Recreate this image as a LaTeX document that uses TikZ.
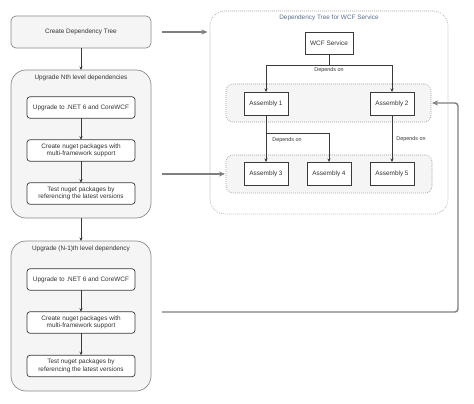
\documentclass[tikz,border=0pt]{standalone}
\usepackage{fontspec}
\setmainfont{Liberation Sans}
\usetikzlibrary{arrows.meta,calc}
\definecolor{boxfill}{HTML}{F5F5F5}
\definecolor{boxline}{HTML}{8A8A8A}
\definecolor{darkline}{HTML}{3A3A3A}
\definecolor{txt}{HTML}{333333}
\definecolor{bluetxt}{HTML}{5A6E8C}
\definecolor{arrowgray}{HTML}{7F7F7F}
\definecolor{dotline}{HTML}{A0A0A0}
\begin{document}
\begin{tikzpicture}[x=1pt,y=-1pt,
  every node/.style={inner sep=0pt, outer sep=0pt, font=\fontsize{6.4}{7.6}\selectfont, text=txt, align=center},
  graybox/.style={draw=boxline, fill=boxfill, line width=0.7pt, rounded corners=5pt},
  container/.style={draw=boxline, fill=boxfill, line width=0.7pt, rounded corners=15pt},
  stepbox/.style={draw=darkline, fill=white, line width=0.7pt, rounded corners=3pt, minimum width=108pt, minimum height=21.5pt},
  asm/.style={draw=darkline, fill=white, line width=0.7pt, minimum width=44pt, minimum height=23pt},
  dotgroup/.style={draw=dotline, fill=boxfill, line width=0.6pt, dash pattern=on 0.8pt off 1.2pt, rounded corners=7pt},
  dotcont/.style={draw=dotline, fill=white, line width=0.6pt, dash pattern=on 0.8pt off 1.2pt, rounded corners=15pt},
  bigarrow/.style={draw=arrowgray, line width=1.4pt, -{Stealth[length=6pt,width=5pt]}},
  thinarrow/.style={draw=darkline, line width=0.7pt, -{Stealth[length=3.5pt,width=3pt]}},
  dep/.style={font=\fontsize{5.4}{6.4}\selectfont, text=txt}
]
\useasboundingbox (0,0) rectangle (474,404);
\fill[white] (0,0) rectangle (474,404);

% left column
\node[graybox, minimum width=140pt, minimum height=32pt] (create) at (81,32) {Create Dependency Tree};

\node[container, minimum width=140pt, minimum height=148pt] (nth) at (81,144) {};
\node (nthlab) at (81,77.5) {Upgrade Nth level dependencies};
\node[stepbox] (n1a) at (81,107.5) {Upgrade to .NET 6 and CoreWCF};
\node[stepbox] (n1b) at (81,150.5) {Create nuget packages with\\multi-framework support};
\node[stepbox] (n1c) at (81,193.5) {Test nuget packages by\\referencing the latest versions};

\node[container, minimum width=140pt, minimum height=150pt] (nm1) at (81,316) {};
\node (nm1lab) at (81,249) {Upgrade (N-1)th level dependency};
\node[stepbox] (n2a) at (81,279.5) {Upgrade to .NET 6 and CoreWCF};
\node[stepbox] (n2b) at (81,322.5) {Create nuget packages with\\multi-framework support};
\node[stepbox] (n2c) at (81,366) {Test nuget packages by\\referencing the latest versions};

\draw[thinarrow] (create.south) -- (nth.north);
\draw[thinarrow] (nth.south) -- (nm1.north);
\draw[thinarrow] (n1a.south) -- (n1b.north);
\draw[thinarrow] (n1b.south) -- (n1c.north);
\draw[thinarrow] (n2a.south) -- (n2b.north);
\draw[thinarrow] (n2b.south) -- (n2c.north);

% dependency tree
\node[dotcont, minimum width=238pt, minimum height=203pt] (tree) at (329,112.5) {};
\node[text=bluetxt] (treelab) at (329,18) {Dependency Tree for WCF Service};
\node[asm, minimum width=48pt, minimum height=22pt] (wcf) at (329,43) {WCF Service};

\node[dotgroup, minimum width=205pt, minimum height=38pt] (g1) at (328.5,103) {};
\node[asm] (a1) at (266,103.5) {Assembly 1};
\node[asm] (a2) at (392,103.5) {Assembly 2};

\node[dotgroup, minimum width=206pt, minimum height=38pt] (g2) at (329,174) {};
\node[asm] (a3) at (266,173.5) {Assembly 3};
\node[asm] (a4) at (329,173.5) {Assembly 4};
\node[asm] (a5) at (392,173.5) {Assembly 5};

\draw[thinarrow] (wcf.south) -- ++(0,11) -| (a1.north);
\draw[thinarrow] (wcf.south) -- ++(0,11) -| (a2.north);
\node[dep] (dep1) at (329,70) {Depends on};
\draw[thinarrow] (a1.south) -- (a3.north);
\draw[thinarrow] (a1.south) -- ++(0,18.5) -| (a4.north);
\node[dep] (dep2) at (287,140) {Depends on};
\draw[thinarrow] (a2.south) -- (a5.north);
\node[dep] (dep3) at (411,139.5) {Depends on};

% big gray arrows
\draw[bigarrow, shorten <=11pt, shorten >=2.5pt] (create.east) -- (create.east -| tree.west);
\draw[bigarrow, shorten <=11pt, shorten >=1pt] (nth.east |- g2.west) -- (g2.west);
\coordinate (corner) at (458,312);
\draw[bigarrow, rounded corners=3pt] ($(nm1.east |- corner)+(11,0)$) -- (corner) -- (corner |- g1.east) -- ($(g1.east)+(1,0)$);
\end{tikzpicture}
\end{document}
